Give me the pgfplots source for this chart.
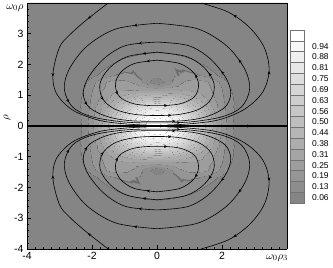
\documentclass[border=0pt]{standalone}
\usepackage{fontspec}
\setmainfont{Liberation Sans}
\usepackage{pgfplots}
\pgfplotsset{compat=1.18}
\usepackage{pgfplotstable}
\usetikzlibrary{decorations.markings,arrows.meta}

\pgfplotstableread[row sep=\\]{
x y z\\
-3 0 0\\-2.75 0 0.004\\-2.5 0 0.029\\-2.25 0 0.084\\-2 0 0.172\\-1.75 0 0.287\\-1.5 0 0.422\\-1.25 0 0.564\\-1 0 0.702\\-0.75 0 0.824\\-0.5 0 0.919\\-0.25 0 0.979\\0 0 1\\0.25 0 0.979\\0.5 0 0.919\\0.75 0 0.824\\1 0 0.702\\1.25 0 0.564\\1.5 0 0.422\\1.75 0 0.287\\2 0 0.172\\2.25 0 0.084\\2.5 0 0.029\\2.75 0 0.004\\3 0 0\\
-3 0.2383 0\\-2.75 0.2383 0.006\\-2.5 0.2383 0.031\\-2.25 0.2383 0.084\\-2 0.2383 0.167\\-1.75 0.2383 0.276\\-1.5 0.2383 0.405\\-1.25 0.2383 0.541\\-1 0.2383 0.673\\-0.75 0.2383 0.790\\-0.5 0.2383 0.881\\-0.25 0.2383 0.939\\0 0.2383 0.959\\0.25 0.2383 0.939\\0.5 0.2383 0.881\\0.75 0.2383 0.790\\1 0.2383 0.673\\1.25 0.2383 0.541\\1.5 0.2383 0.405\\1.75 0.2383 0.276\\2 0.2383 0.167\\2.25 0.2383 0.084\\2.5 0.2383 0.031\\2.75 0.2383 0.006\\3 0.2383 0\\
-3 0.4767 0\\-2.75 0.4767 0.008\\-2.5 0.4767 0.036\\-2.25 0.4767 0.084\\-2 0.4767 0.155\\-1.75 0.4767 0.248\\-1.5 0.4767 0.358\\-1.25 0.4767 0.475\\-1 0.4767 0.590\\-0.75 0.4767 0.692\\-0.5 0.4767 0.772\\-0.25 0.4767 0.823\\0 0.4767 0.840\\0.25 0.4767 0.823\\0.5 0.4767 0.772\\0.75 0.4767 0.692\\1 0.4767 0.590\\1.25 0.4767 0.475\\1.5 0.4767 0.358\\1.75 0.4767 0.248\\2 0.4767 0.155\\2.25 0.4767 0.084\\2.5 0.4767 0.036\\2.75 0.4767 0.008\\3 0.4767 0\\
-3 0.715 0\\-2.75 0.715 0.007\\-2.5 0.715 0.037\\-2.25 0.715 0.083\\-2 0.715 0.143\\-1.75 0.715 0.214\\-1.5 0.715 0.295\\-1.25 0.715 0.383\\-1 0.715 0.461\\-0.75 0.715 0.546\\-0.5 0.715 0.607\\-0.25 0.715 0.646\\0 0.715 0.659\\0.25 0.715 0.646\\0.5 0.715 0.607\\0.75 0.715 0.546\\1 0.715 0.461\\1.25 0.715 0.383\\1.5 0.715 0.295\\1.75 0.715 0.214\\2 0.715 0.143\\2.25 0.715 0.083\\2.5 0.715 0.037\\2.75 0.715 0.007\\3 0.715 0\\
-3 0.9533 0\\-2.75 0.9533 0.002\\-2.5 0.9533 0.032\\-2.25 0.9533 0.080\\-2 0.9533 0.134\\-1.75 0.9533 0.187\\-1.5 0.9533 0.239\\-1.25 0.9533 0.289\\-1 0.9533 0.336\\-0.75 0.9533 0.371\\-0.5 0.9533 0.410\\-0.25 0.9533 0.432\\0 0.9533 0.439\\0.25 0.9533 0.432\\0.5 0.9533 0.410\\0.75 0.9533 0.371\\1 0.9533 0.336\\1.25 0.9533 0.289\\1.5 0.9533 0.239\\1.75 0.9533 0.187\\2 0.9533 0.134\\2.25 0.9533 0.080\\2.5 0.9533 0.032\\2.75 0.9533 0.002\\3 0.9533 0\\
-3 1.1917 0\\-2.75 1.1917 0\\-2.5 1.1917 0.019\\-2.25 1.1917 0.068\\-2 1.1917 0.123\\-1.75 1.1917 0.173\\-1.5 1.1917 0.209\\-1.25 1.1917 0.229\\-1 1.1917 0.235\\-0.75 1.1917 0.231\\-0.5 1.1917 0.221\\-0.25 1.1917 0.212\\0 1.1917 0.209\\0.25 1.1917 0.212\\0.5 1.1917 0.221\\0.75 1.1917 0.231\\1 1.1917 0.235\\1.25 1.1917 0.229\\1.5 1.1917 0.209\\1.75 1.1917 0.173\\2 1.1917 0.123\\2.25 1.1917 0.068\\2.5 1.1917 0.019\\2.75 1.1917 0\\3 1.1917 0\\
-3 1.43 0\\-2.75 1.43 0\\-2.5 1.43 0.004\\-2.25 1.43 0.044\\-2 1.43 0.102\\-1.75 1.43 0.158\\-1.5 1.43 0.198\\-1.25 1.43 0.216\\-1 1.43 0.209\\-0.75 1.43 0.180\\-0.5 1.43 0.131\\-0.25 1.43 0.069\\0 1.43 0\\0.25 1.43 0.069\\0.5 1.43 0.131\\0.75 1.43 0.180\\1 1.43 0.209\\1.25 1.43 0.216\\1.5 1.43 0.198\\1.75 1.43 0.158\\2 1.43 0.102\\2.25 1.43 0.044\\2.5 1.43 0.004\\2.75 1.43 0\\3 1.43 0\\
-3 1.6683 0\\-2.75 1.6683 0\\-2.5 1.6683 0\\-2.25 1.6683 0.009\\-2 1.6683 0.040\\-1.75 1.6683 0.076\\-1.5 1.6683 0.107\\-1.25 1.6683 0.128\\-1 1.6683 0.136\\-0.75 1.6683 0.130\\-0.5 1.6683 0.116\\-0.25 1.6683 0.101\\0 1.6683 0.094\\0.25 1.6683 0.101\\0.5 1.6683 0.116\\0.75 1.6683 0.130\\1 1.6683 0.136\\1.25 1.6683 0.128\\1.5 1.6683 0.107\\1.75 1.6683 0.076\\2 1.6683 0.040\\2.25 1.6683 0.009\\2.5 1.6683 0\\2.75 1.6683 0\\3 1.6683 0\\
-3 1.9067 0\\-2.75 1.9067 0\\-2.5 1.9067 0\\-2.25 1.9067 0\\-2 1.9067 0.011\\-1.75 1.9067 0.038\\-1.5 1.9067 0.067\\-1.25 1.9067 0.093\\-1 1.9067 0.110\\-0.75 1.9067 0.119\\-0.5 1.9067 0.122\\-0.25 1.9067 0.120\\0 1.9067 0.120\\0.25 1.9067 0.120\\0.5 1.9067 0.122\\0.75 1.9067 0.119\\1 1.9067 0.110\\1.25 1.9067 0.093\\1.5 1.9067 0.067\\1.75 1.9067 0.038\\2 1.9067 0.011\\2.25 1.9067 0\\2.5 1.9067 0\\2.75 1.9067 0\\3 1.9067 0\\
-3 2.145 0\\-2.75 2.145 0\\-2.5 2.145 0\\-2.25 2.145 0\\-2 2.145 0\\-1.75 2.145 0.009\\-1.5 2.145 0.030\\-1.25 2.145 0.054\\-1 2.145 0.075\\-0.75 2.145 0.090\\-0.5 2.145 0.101\\-0.25 2.145 0.106\\0 2.145 0.108\\0.25 2.145 0.106\\0.5 2.145 0.101\\0.75 2.145 0.090\\1 2.145 0.075\\1.25 2.145 0.054\\1.5 2.145 0.030\\1.75 2.145 0.009\\2 2.145 0\\2.25 2.145 0\\2.5 2.145 0\\2.75 2.145 0\\3 2.145 0\\
-3 2.3833 0\\-2.75 2.3833 0\\-2.5 2.3833 0\\-2.25 2.3833 0\\-2 2.3833 0\\-1.75 2.3833 0\\-1.5 2.3833 0.003\\-1.25 2.3833 0.016\\-1 2.3833 0.031\\-0.75 2.3833 0.046\\-0.5 2.3833 0.057\\-0.25 2.3833 0.064\\0 2.3833 0.066\\0.25 2.3833 0.064\\0.5 2.3833 0.057\\0.75 2.3833 0.046\\1 2.3833 0.031\\1.25 2.3833 0.016\\1.5 2.3833 0.003\\1.75 2.3833 0\\2 2.3833 0\\2.25 2.3833 0\\2.5 2.3833 0\\2.75 2.3833 0\\3 2.3833 0\\
-3 2.6217 0\\-2.75 2.6217 0\\-2.5 2.6217 0\\-2.25 2.6217 0\\-2 2.6217 0\\-1.75 2.6217 0\\-1.5 2.6217 0\\-1.25 2.6217 0\\-1 2.6217 0.002\\-0.75 2.6217 0.010\\-0.5 2.6217 0.017\\-0.25 2.6217 0.022\\0 2.6217 0.024\\0.25 2.6217 0.022\\0.5 2.6217 0.017\\0.75 2.6217 0.010\\1 2.6217 0.002\\1.25 2.6217 0\\1.5 2.6217 0\\1.75 2.6217 0\\2 2.6217 0\\2.25 2.6217 0\\2.5 2.6217 0\\2.75 2.6217 0\\3 2.6217 0\\
-3 2.86 0\\-2.75 2.86 0\\-2.5 2.86 0\\-2.25 2.86 0\\-2 2.86 0\\-1.75 2.86 0\\-1.5 2.86 0\\-1.25 2.86 0\\-1 2.86 0\\-0.75 2.86 0\\-0.5 2.86 0\\-0.25 2.86 0\\0 2.86 0\\0.25 2.86 0\\0.5 2.86 0\\0.75 2.86 0\\1 2.86 0\\1.25 2.86 0\\1.5 2.86 0\\1.75 2.86 0\\2 2.86 0\\2.25 2.86 0\\2.5 2.86 0\\2.75 2.86 0\\3 2.86 0\\
}\field

% streamlines (upper half; lower half is the mirror image)
\pgfplotstableread{
x y
0 3.34
-1.25 3.16
-2.15 2.6
-2.7 1.85
-2.85 1.2
-2.6 0.62
-2.0 0.3
-1.0 0.13
0 0.1
1.0 0.13
2.0 0.3
2.6 0.62
2.85 1.2
2.7 1.85
2.15 2.6
1.25 3.16
0 3.34
}\loopA
\pgfplotstableread{
x y
0 2.73
-0.95 2.62
-1.6 2.22
-2.1 1.6
-2.27 1.07
-2.1 0.62
-1.57 0.32
-0.9 0.18
0 0.15
0.9 0.18
1.57 0.32
2.1 0.62
2.27 1.07
2.1 1.6
1.6 2.22
0.95 2.62
0 2.73
}\loopB
\pgfplotstableread{
x y
0 2.4
-0.9 2.26
-1.45 1.9
-1.75 1.4
-1.68 0.9
-1.3 0.55
-0.7 0.38
0 0.34
0.7 0.38
1.3 0.55
1.68 0.9
1.75 1.4
1.45 1.9
0.9 2.26
0 2.4
}\loopC
\pgfplotstableread{
x y
0 2.14
-0.7 2.03
-1.12 1.74
-1.28 1.35
-1.15 0.95
-0.7 0.72
0 0.66
0.7 0.72
1.15 0.95
1.28 1.35
1.12 1.74
0.7 2.03
0 2.14
}\loopD
\pgfplotstableread{
x y
-1.5 4.0
-2.18 3.44
-2.7 2.95
-3.0 2.56
-3.2 1.72
-3.1 1.07
-2.6 0.52
-1.8 0.19
-1.0 0.07
-0.3 0.03
}\outL
\pgfplotstableread{
x y
0.3 0.03
1.0 0.07
1.9 0.2
2.7 0.55
3.25 1.1
3.45 1.8
3.3 2.55
2.85 3.2
2.2 3.7
1.35 4.0
}\outR

\newcommand\arw{\arrow{Stealth[length=3.4bp,width=3bp]}}
\tikzset{
  sl/.style={black, line width=0.6bp, smooth, tension=0.55},
  loopar/.style={postaction={decorate}, decoration={markings,
     mark=at position 0.05 with {\arw}, mark=at position 0.3 with {\arw},
     mark=at position 0.55 with {\arw}, mark=at position 0.8 with {\arw}}},
  outar/.style={postaction={decorate}, decoration={markings,
     mark=at position 0.12 with {\arw}, mark=at position 0.45 with {\arw}}},
  outarR/.style={postaction={decorate}, decoration={markings,
     mark=at position 0.55 with {\arw}, mark=at position 0.85 with {\arw}}},
}
\definecolor{bgc}{gray}{0.52}

\begin{document}
\begin{tikzpicture}
\path[use as bounding box] (-27bp,-19bp) rectangle (306bp,249bp);
\begin{axis}[
  scale only axis, width=260bp, height=246bp,
  view={0}{90},
  xmin=-4, xmax=4, ymin=-4, ymax=4, zmin=0, zmax=1,
  xtick={-4,-2,0,2,4}, xticklabels={-4,-2,0,2,{}},
  ytick={-4,-3,-2,-1,0,1,2,3,4}, yticklabels={-4,-3,-2,-1,0,1,2,3,{}},
  ztick=\empty,
  minor x tick num=7, minor y tick num=4,
  tick align=inside, xtick pos=left, ytick pos=left,
  major tick length=4bp, minor tick length=2bp,
  tick style={black, line width=0.5bp},
  axis line style={black, line width=0.8bp},
  tick label style={font=\fontsize{10.5}{12}\selectfont},
  /pgf/number format/assume math mode=true,
  axis background/.style={fill=bgc},
  point meta min=0, point meta max=1,
  colormap={flood}{gray(0pt)=(0.52); gray(19pt)=(0.52); gray(20pt)=(0.37);
    gray(21pt)=(0.552); gray(39pt)=(0.552); gray(40pt)=(0.394);
    gray(41pt)=(0.584); gray(59pt)=(0.584); gray(60pt)=(0.418);
    gray(61pt)=(0.616); gray(79pt)=(0.616); gray(80pt)=(0.442);
    gray(81pt)=(0.648); gray(99pt)=(0.648); gray(100pt)=(0.466);
    gray(101pt)=(0.68); gray(119pt)=(0.68); gray(120pt)=(0.49);
    gray(121pt)=(0.712); gray(139pt)=(0.712); gray(140pt)=(0.514);
    gray(141pt)=(0.744); gray(159pt)=(0.744); gray(160pt)=(0.538);
    gray(161pt)=(0.776); gray(179pt)=(0.776); gray(180pt)=(0.562);
    gray(181pt)=(0.808); gray(199pt)=(0.808); gray(200pt)=(0.586);
    gray(201pt)=(0.84); gray(219pt)=(0.84); gray(220pt)=(0.61);
    gray(221pt)=(0.872); gray(239pt)=(0.872); gray(240pt)=(0.634);
    gray(241pt)=(0.904); gray(259pt)=(0.904); gray(260pt)=(0.658);
    gray(261pt)=(0.936); gray(279pt)=(0.936); gray(280pt)=(0.682);
    gray(281pt)=(0.968); gray(299pt)=(0.968); gray(300pt)=(0.706);
    gray(301pt)=(1); gray(320pt)=(1)},
]
\addplot3[surf, shader=interp, mesh/cols=25] table[x=x,y=y,z=z] {\field};
\addplot3[surf, shader=interp, mesh/cols=25] table[x=x,y expr=-\thisrow{y},z=z] {\field};

\addplot[sl, loopar] table {\loopA};
\addplot[sl, loopar] table[x=x, y expr=-\thisrow{y}] {\loopA};
\addplot[sl, loopar] table {\loopB};
\addplot[sl, loopar] table[x=x, y expr=-\thisrow{y}] {\loopB};
\addplot[sl, loopar] table {\loopC};
\addplot[sl, loopar] table[x=x, y expr=-\thisrow{y}] {\loopC};
\addplot[sl, loopar] table {\loopD};
\addplot[sl, loopar] table[x=x, y expr=-\thisrow{y}] {\loopD};
\addplot[sl, outar] table {\outL};
\addplot[sl, outar] table[x=x, y expr=-\thisrow{y}] {\outL};
\addplot[sl, outarR] table {\outR};
\addplot[sl, outarR] table[x=x, y expr=-\thisrow{y}] {\outR};
\addplot[black, line width=1.1bp, postaction={decorate}, decoration={markings,
   mark=at position 0.325 with {\arw}, mark=at position 0.525 with {\arw},
   mark=at position 0.59 with {\arw}, mark=at position 0.86 with {\arw}}]
   coordinates {(-4,0) (4,0)};
\end{axis}
% colour legend
\foreach \k in {1,...,16}{
  \pgfmathsetmacro\g{0.52+0.48*(16-\k)/15}
  \pgfmathsetmacro\yt{219-(\k-1)*10.8125}
  \pgfmathsetmacro\yb{219-\k*10.8125}
  \definecolor{cb}{gray}{\g}
  \filldraw[fill=cb, draw=black!55, line width=0.4bp] (263bp,\yb bp) rectangle (277bp,\yt bp);
}
\foreach \k/\lab in {2/0.94,3/0.88,4/0.81,5/0.75,6/0.69,7/0.63,8/0.56,9/0.50,10/0.44,11/0.38,12/0.31,13/0.25,14/0.19,15/0.13,16/0.06}{
  \pgfmathsetmacro\yc{219-(\k-0.5)*10.8125}
  \node[anchor=west, inner sep=0pt, font=\fontsize{8.5}{10}\selectfont] at (285bp,\yc bp) {\lab};
}
\node[font=\fontsize{11}{12}\selectfont] at (250bp,-9bp) {$\omega_0\rho_3$};
\node[font=\fontsize{11}{12}\selectfont] at (-12bp,241bp) {$\omega_0\rho$};
\node[font=\fontsize{11}{12}\selectfont, rotate=90] at (-20bp,131bp) {$\rho$};
\end{tikzpicture}
\end{document}
